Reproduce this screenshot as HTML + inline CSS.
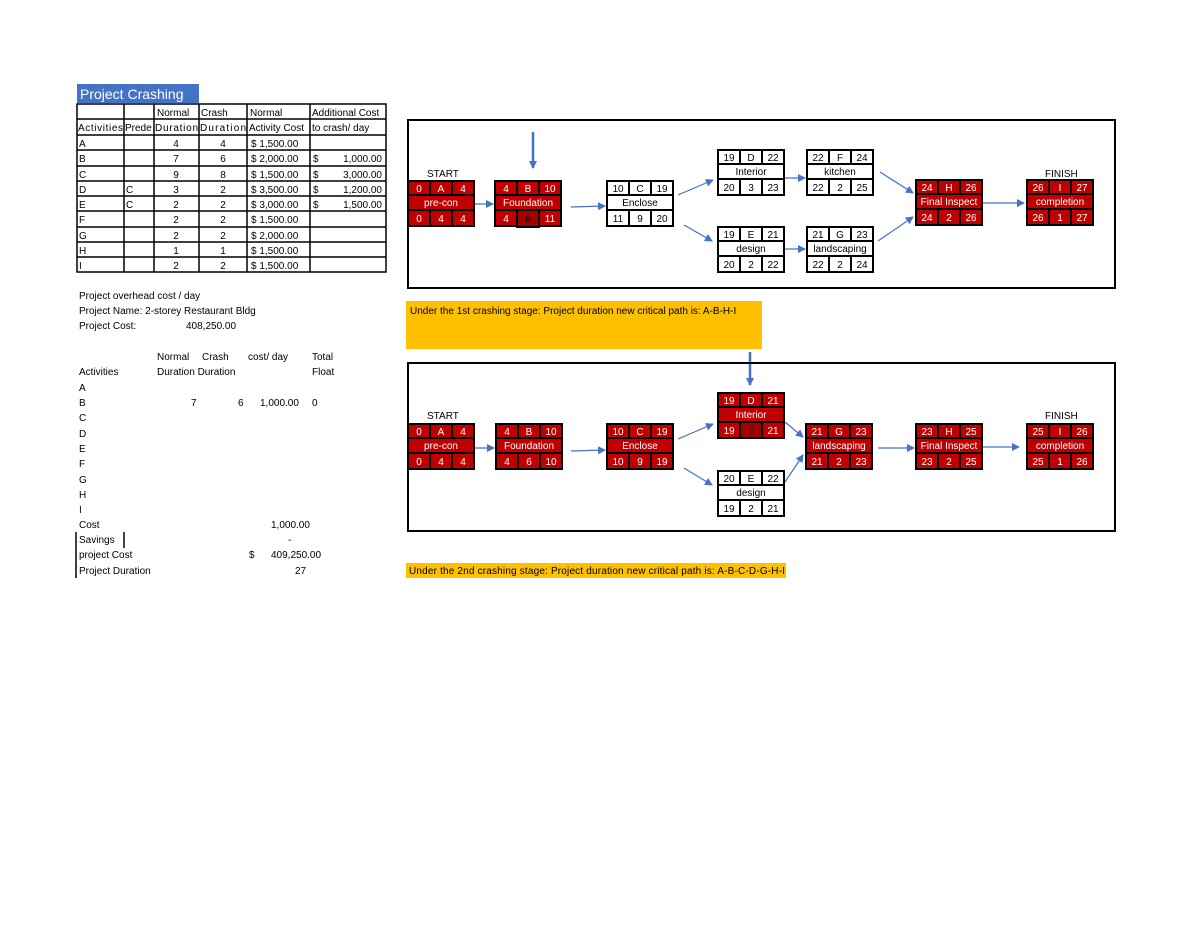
<!DOCTYPE html>
<html><head><meta charset="utf-8"><style>
body{margin:0;background:#fff}
svg{display:block;font-family:"Liberation Sans",sans-serif}
.n text{font-size:10px;text-anchor:middle}
.t{font-size:10px}
</style></head><body>
<svg width="1200" height="927" viewBox="0 0 1200 927" xmlns="http://www.w3.org/2000/svg">
<defs>
<marker id="ar" markerWidth="8" markerHeight="8" refX="7" refY="4" orient="auto" markerUnits="userSpaceOnUse"><path d="M0,0 L8,4 L0,8 Z" fill="#4472c4"/></marker>
</defs>
<!-- Title -->
<rect x="77" y="84" width="122" height="19" fill="#4472c4"/>
<text x="80" y="99" font-size="14" fill="#fff">Project Crashing</text>
<!-- Table -->
<g stroke="#000" stroke-width="1.5" fill="none">
<rect x="77" y="104" width="309" height="168"/>
<line x1="124" y1="104" x2="124" y2="272"/><line x1="154" y1="104" x2="154" y2="272"/>
<line x1="199" y1="104" x2="199" y2="272"/><line x1="247" y1="104" x2="247" y2="272"/>
<line x1="310" y1="104" x2="310" y2="272"/>
<line x1="77" y1="119" x2="386" y2="119"/><line x1="77" y1="135" x2="386" y2="135"/>
<line x1="77" y1="150" x2="386" y2="150"/><line x1="77" y1="166" x2="386" y2="166"/>
<line x1="77" y1="181" x2="386" y2="181"/><line x1="77" y1="196" x2="386" y2="196"/>
<line x1="77" y1="211" x2="386" y2="211"/><line x1="77" y1="227" x2="386" y2="227"/>
<line x1="77" y1="242" x2="386" y2="242"/><line x1="77" y1="257" x2="386" y2="257"/>
</g>
<g class="t">
<text x="157" y="116">Normal</text><text x="201" y="116">Crash</text><text x="250" y="116">Normal</text><text x="312" y="116">Additional Cost</text>
<text x="78" y="131" textLength="45">Activities</text><text x="125" y="131">Prede</text><text x="155" y="131" textLength="43">Duration</text><text x="200" y="131" textLength="46">Duration</text><text x="249" y="131">Activity Cost</text><text x="312" y="131">to crash/ day</text>
</g>
<g class="t">
<text x="79" y="147">A</text><text x="79" y="162">B</text><text x="79" y="178">C</text><text x="79" y="193">D</text><text x="79" y="208">E</text><text x="79" y="223">F</text><text x="79" y="239">G</text><text x="79" y="254">H</text><text x="79" y="269">I</text>
<text x="126" y="193">C</text><text x="126" y="208">C</text>
</g>
<g class="t" text-anchor="middle">
<text x="176" y="147">4</text><text x="176" y="162">7</text><text x="176" y="178">9</text><text x="176" y="193">3</text><text x="176" y="208">2</text><text x="176" y="223">2</text><text x="176" y="239">2</text><text x="176" y="254">1</text><text x="176" y="269">2</text>
<text x="223" y="147">4</text><text x="223" y="162">6</text><text x="223" y="178">8</text><text x="223" y="193">2</text><text x="223" y="208">2</text><text x="223" y="223">2</text><text x="223" y="239">2</text><text x="223" y="254">1</text><text x="223" y="269">2</text>
</g>
<g class="t">
<text x="251" y="147">$ 1,500.00</text><text x="251" y="162">$ 2,000.00</text><text x="251" y="178">$ 1,500.00</text><text x="251" y="193">$ 3,500.00</text><text x="251" y="208">$ 3,000.00</text><text x="251" y="223">$ 1,500.00</text><text x="251" y="239">$ 2,000.00</text><text x="251" y="254">$ 1,500.00</text><text x="251" y="269">$ 1,500.00</text>
<text x="313" y="162">$</text><text x="313" y="178">$</text><text x="313" y="193">$</text><text x="313" y="208">$</text>
</g>
<g class="t" text-anchor="end">
<text x="382" y="162">1,000.00</text><text x="382" y="178">3,000.00</text><text x="382" y="193">1,200.00</text><text x="382" y="208">1,500.00</text>
</g>
<!-- lower left -->
<g class="t">
<text x="79" y="299">Project overhead cost / day</text>
<text x="79" y="314">Project Name: 2-storey Restaurant Bldg</text>
<text x="79" y="329">Project Cost:</text><text x="186" y="329">408,250.00</text>
<text x="157" y="360">Normal</text><text x="202" y="360">Crash</text><text x="248" y="360">cost/ day</text><text x="312" y="360">Total</text>
<text x="79" y="375">Activities</text><text x="157" y="375">Duration Duration</text><text x="312" y="375">Float</text>
<text x="79" y="391">A</text><text x="79" y="406">B</text><text x="79" y="421">C</text><text x="79" y="437">D</text><text x="79" y="452">E</text><text x="79" y="467">F</text><text x="79" y="483">G</text><text x="79" y="498">H</text><text x="79" y="513">I</text>
<text x="191" y="406">7</text><text x="238" y="406">6</text><text x="260" y="406">1,000.00</text><text x="312" y="406">0</text>
<text x="79" y="528">Cost</text><text x="271" y="528">1,000.00</text>
<text x="79" y="543">Savings</text><text x="288" y="543">-</text>
<text x="79" y="558">project Cost</text><text x="249" y="558">$</text><text x="271" y="558">409,250.00</text>
<text x="79" y="574">Project Duration</text><text x="295" y="574">27</text>
</g>
<g stroke="#000" stroke-width="1.5"><line x1="76" y1="532" x2="76" y2="578"/><line x1="124" y1="532" x2="124" y2="548"/></g>

<!-- Diagram 1 -->
<rect x="408" y="120" width="707" height="168" fill="none" stroke="#000" stroke-width="2"/>
<line x1="533" y1="132" x2="533" y2="168" stroke="#4472c4" stroke-width="2.5" marker-end="url(#ar)"/>
<text class="t" x="427" y="177">START</text>
<text class="t" x="1045" y="177">FINISH</text>
<g stroke="#4472c4" stroke-width="1.2" fill="none" marker-end="url(#ar)">
<line x1="475" y1="204" x2="493" y2="204"/>
<line x1="571" y1="207" x2="605" y2="206"/>
<line x1="678" y1="195" x2="713" y2="180"/>
<line x1="684" y1="225" x2="712" y2="241"/>
<line x1="785" y1="178" x2="805" y2="178"/>
<line x1="785" y1="249" x2="805" y2="249"/>
<line x1="880" y1="172" x2="913" y2="193"/>
<line x1="878" y1="241" x2="913" y2="217"/>
<line x1="983" y1="203" x2="1024" y2="203"/>
</g>
<!-- A -->
<g class="n" transform="translate(407,180)"><rect width="68" height="47"/><g fill="#c00000"><rect x="2" y="2" width="20" height="12"/><rect x="24" y="2" width="20" height="12"/><rect x="46" y="2" width="20" height="12"/><rect x="2" y="16" width="64" height="13"/><rect x="2" y="31" width="20" height="14"/><rect x="24" y="31" width="20" height="14"/><rect x="46" y="31" width="20" height="14"/></g><g fill="#fff"><text x="12" y="12">0</text><text x="34" y="12">A</text><text x="56" y="12">4</text><text x="34" y="26">pre-con</text><text x="12" y="42">0</text><text x="34" y="42">4</text><text x="56" y="42">4</text></g></g>
<!-- B -->
<g class="n" transform="translate(494,180)"><rect width="68" height="47"/><g fill="#c00000"><rect x="2" y="2" width="20" height="12"/><rect x="24" y="2" width="20" height="12"/><rect x="46" y="2" width="20" height="12"/><rect x="2" y="16" width="64" height="13"/><rect x="2" y="31" width="20" height="14"/><rect x="46" y="31" width="20" height="14"/></g><rect x="23" y="30" width="22" height="17" fill="#a00000" stroke="#000" stroke-width="2"/><g fill="#fff"><text x="12" y="12">4</text><text x="34" y="12">B</text><text x="56" y="12">10</text><text x="34" y="26">Foundation</text><text x="12" y="42">4</text><text x="56" y="42">11</text></g><text x="34" y="42" fill="#000">6</text></g>
<!-- C white -->
<g class="n" transform="translate(606,180)"><rect width="68" height="47"/><g fill="#fff"><rect x="2" y="2" width="20" height="12"/><rect x="24" y="2" width="20" height="12"/><rect x="46" y="2" width="20" height="12"/><rect x="2" y="16" width="64" height="13"/><rect x="2" y="31" width="20" height="14"/><rect x="24" y="31" width="20" height="14"/><rect x="46" y="31" width="20" height="14"/></g><g fill="#000"><text x="12" y="12">10</text><text x="34" y="12">C</text><text x="56" y="12">19</text><text x="34" y="26">Enclose</text><text x="12" y="42">11</text><text x="34" y="42">9</text><text x="56" y="42">20</text></g></g>
<!-- D white -->
<g class="n" transform="translate(717,149)"><rect width="68" height="47"/><g fill="#fff"><rect x="2" y="2" width="20" height="12"/><rect x="24" y="2" width="20" height="12"/><rect x="46" y="2" width="20" height="12"/><rect x="2" y="16" width="64" height="13"/><rect x="2" y="31" width="20" height="14"/><rect x="24" y="31" width="20" height="14"/><rect x="46" y="31" width="20" height="14"/></g><g fill="#000"><text x="12" y="12">19</text><text x="34" y="12">D</text><text x="56" y="12">22</text><text x="34" y="26">Interior</text><text x="12" y="42">20</text><text x="34" y="42">3</text><text x="56" y="42">23</text></g></g>
<!-- F white -->
<g class="n" transform="translate(806,149)"><rect width="68" height="47"/><g fill="#fff"><rect x="2" y="2" width="20" height="12"/><rect x="24" y="2" width="20" height="12"/><rect x="46" y="2" width="20" height="12"/><rect x="2" y="16" width="64" height="13"/><rect x="2" y="31" width="20" height="14"/><rect x="24" y="31" width="20" height="14"/><rect x="46" y="31" width="20" height="14"/></g><g fill="#000"><text x="12" y="12">22</text><text x="34" y="12">F</text><text x="56" y="12">24</text><text x="34" y="26">kitchen</text><text x="12" y="42">22</text><text x="34" y="42">2</text><text x="56" y="42">25</text></g></g>
<!-- E white -->
<g class="n" transform="translate(717,226)"><rect width="68" height="47"/><g fill="#fff"><rect x="2" y="2" width="20" height="12"/><rect x="24" y="2" width="20" height="12"/><rect x="46" y="2" width="20" height="12"/><rect x="2" y="16" width="64" height="13"/><rect x="2" y="31" width="20" height="14"/><rect x="24" y="31" width="20" height="14"/><rect x="46" y="31" width="20" height="14"/></g><g fill="#000"><text x="12" y="12">19</text><text x="34" y="12">E</text><text x="56" y="12">21</text><text x="34" y="26">design</text><text x="12" y="42">20</text><text x="34" y="42">2</text><text x="56" y="42">22</text></g></g>
<!-- G white -->
<g class="n" transform="translate(806,226)"><rect width="68" height="47"/><g fill="#fff"><rect x="2" y="2" width="20" height="12"/><rect x="24" y="2" width="20" height="12"/><rect x="46" y="2" width="20" height="12"/><rect x="2" y="16" width="64" height="13"/><rect x="2" y="31" width="20" height="14"/><rect x="24" y="31" width="20" height="14"/><rect x="46" y="31" width="20" height="14"/></g><g fill="#000"><text x="12" y="12">21</text><text x="34" y="12">G</text><text x="56" y="12">23</text><text x="34" y="26">landscaping</text><text x="12" y="42">22</text><text x="34" y="42">2</text><text x="56" y="42">24</text></g></g>
<!-- H -->
<g class="n" transform="translate(915,179)"><rect width="68" height="47"/><g fill="#c00000"><rect x="2" y="2" width="20" height="12"/><rect x="24" y="2" width="20" height="12"/><rect x="46" y="2" width="20" height="12"/><rect x="2" y="16" width="64" height="13"/><rect x="2" y="31" width="20" height="14"/><rect x="24" y="31" width="20" height="14"/><rect x="46" y="31" width="20" height="14"/></g><g fill="#fff"><text x="12" y="12">24</text><text x="34" y="12">H</text><text x="56" y="12">26</text><text x="34" y="26">Final Inspect</text><text x="12" y="42">24</text><text x="34" y="42">2</text><text x="56" y="42">26</text></g></g>
<!-- I -->
<g class="n" transform="translate(1026,179)"><rect width="68" height="47"/><g fill="#c00000"><rect x="2" y="2" width="20" height="12"/><rect x="24" y="2" width="20" height="12"/><rect x="46" y="2" width="20" height="12"/><rect x="2" y="16" width="64" height="13"/><rect x="2" y="31" width="20" height="14"/><rect x="24" y="31" width="20" height="14"/><rect x="46" y="31" width="20" height="14"/></g><g fill="#fff"><text x="12" y="12">26</text><text x="34" y="12">I</text><text x="56" y="12">27</text><text x="34" y="26">completion</text><text x="12" y="42">26</text><text x="34" y="42">1</text><text x="56" y="42">27</text></g></g>

<!-- Yellow 1 -->
<rect x="406" y="301" width="356" height="48" fill="#ffc000"/>
<text class="t" x="410" y="314">Under the 1st crashing stage: Project duration  new critical path is: A-B-H-I</text>
<line x1="750" y1="352" x2="750" y2="385" stroke="#4472c4" stroke-width="2.5" marker-end="url(#ar)"/>

<!-- Diagram 2 -->
<rect x="408" y="363" width="707" height="168" fill="none" stroke="#000" stroke-width="2"/>
<text class="t" x="427" y="419">START</text>
<text class="t" x="1045" y="419">FINISH</text>
<g stroke="#4472c4" stroke-width="1.2" fill="none" marker-end="url(#ar)">
<line x1="475" y1="448" x2="494" y2="448"/>
<line x1="571" y1="451" x2="605" y2="450"/>
<line x1="678" y1="439" x2="713" y2="424"/>
<line x1="684" y1="468" x2="712" y2="485"/>
<line x1="785" y1="422" x2="803" y2="437"/>
<line x1="785" y1="482" x2="803" y2="455"/>
<line x1="878" y1="448" x2="914" y2="448"/>
<line x1="983" y1="447" x2="1019" y2="447"/>
</g>
<!-- A2 -->
<g class="n" transform="translate(407,423)"><rect width="68" height="47"/><g fill="#c00000"><rect x="2" y="2" width="20" height="12"/><rect x="24" y="2" width="20" height="12"/><rect x="46" y="2" width="20" height="12"/><rect x="2" y="16" width="64" height="13"/><rect x="2" y="31" width="20" height="14"/><rect x="24" y="31" width="20" height="14"/><rect x="46" y="31" width="20" height="14"/></g><g fill="#fff"><text x="12" y="12">0</text><text x="34" y="12">A</text><text x="56" y="12">4</text><text x="34" y="26">pre-con</text><text x="12" y="42">0</text><text x="34" y="42">4</text><text x="56" y="42">4</text></g></g>
<!-- B2 -->
<g class="n" transform="translate(495,423)"><rect width="68" height="47"/><g fill="#c00000"><rect x="2" y="2" width="20" height="12"/><rect x="24" y="2" width="20" height="12"/><rect x="46" y="2" width="20" height="12"/><rect x="2" y="16" width="64" height="13"/><rect x="2" y="31" width="20" height="14"/><rect x="24" y="31" width="20" height="14"/><rect x="46" y="31" width="20" height="14"/></g><g fill="#fff"><text x="12" y="12">4</text><text x="34" y="12">B</text><text x="56" y="12">10</text><text x="34" y="26">Foundation</text><text x="12" y="42">4</text><text x="34" y="42">6</text><text x="56" y="42">10</text></g></g>
<!-- C2 -->
<g class="n" transform="translate(606,423)"><rect width="68" height="47"/><g fill="#c00000"><rect x="2" y="2" width="20" height="12"/><rect x="24" y="2" width="20" height="12"/><rect x="46" y="2" width="20" height="12"/><rect x="2" y="16" width="64" height="13"/><rect x="2" y="31" width="20" height="14"/><rect x="24" y="31" width="20" height="14"/><rect x="46" y="31" width="20" height="14"/></g><g fill="#fff"><text x="12" y="12">10</text><text x="34" y="12">C</text><text x="56" y="12">19</text><text x="34" y="26">Enclose</text><text x="12" y="42">10</text><text x="34" y="42">9</text><text x="56" y="42">19</text></g></g>
<!-- D2 -->
<g class="n" transform="translate(717,392)"><rect width="68" height="47"/><g fill="#c00000"><rect x="2" y="2" width="20" height="12"/><rect x="24" y="2" width="20" height="12"/><rect x="46" y="2" width="20" height="12"/><rect x="2" y="16" width="64" height="13"/><rect x="2" y="31" width="20" height="14"/><rect x="46" y="31" width="20" height="14"/></g><rect x="24" y="31" width="20" height="14" fill="#a00000"/><g fill="#fff"><text x="12" y="12">19</text><text x="34" y="12">D</text><text x="56" y="12">21</text><text x="34" y="26">Interior</text><text x="12" y="42">19</text><text x="56" y="42">21</text></g><text x="34" y="42" fill="#400">2</text></g>
<!-- E2 white -->
<g class="n" transform="translate(717,470)"><rect width="68" height="47"/><g fill="#fff"><rect x="2" y="2" width="20" height="12"/><rect x="24" y="2" width="20" height="12"/><rect x="46" y="2" width="20" height="12"/><rect x="2" y="16" width="64" height="13"/><rect x="2" y="31" width="20" height="14"/><rect x="24" y="31" width="20" height="14"/><rect x="46" y="31" width="20" height="14"/></g><g fill="#000"><text x="12" y="12">20</text><text x="34" y="12">E</text><text x="56" y="12">22</text><text x="34" y="26">design</text><text x="12" y="42">19</text><text x="34" y="42">2</text><text x="56" y="42">21</text></g></g>
<!-- G2 -->
<g class="n" transform="translate(805,423)"><rect width="68" height="47"/><g fill="#c00000"><rect x="2" y="2" width="20" height="12"/><rect x="24" y="2" width="20" height="12"/><rect x="46" y="2" width="20" height="12"/><rect x="2" y="16" width="64" height="13"/><rect x="2" y="31" width="20" height="14"/><rect x="24" y="31" width="20" height="14"/><rect x="46" y="31" width="20" height="14"/></g><g fill="#fff"><text x="12" y="12">21</text><text x="34" y="12">G</text><text x="56" y="12">23</text><text x="34" y="26">landscaping</text><text x="12" y="42">21</text><text x="34" y="42">2</text><text x="56" y="42">23</text></g></g>
<!-- H2 -->
<g class="n" transform="translate(915,423)"><rect width="68" height="47"/><g fill="#c00000"><rect x="2" y="2" width="20" height="12"/><rect x="24" y="2" width="20" height="12"/><rect x="46" y="2" width="20" height="12"/><rect x="2" y="16" width="64" height="13"/><rect x="2" y="31" width="20" height="14"/><rect x="24" y="31" width="20" height="14"/><rect x="46" y="31" width="20" height="14"/></g><g fill="#fff"><text x="12" y="12">23</text><text x="34" y="12">H</text><text x="56" y="12">25</text><text x="34" y="26">Final Inspect</text><text x="12" y="42">23</text><text x="34" y="42">2</text><text x="56" y="42">25</text></g></g>
<!-- I2 -->
<g class="n" transform="translate(1026,423)"><rect width="68" height="47"/><g fill="#c00000"><rect x="2" y="2" width="20" height="12"/><rect x="24" y="2" width="20" height="12"/><rect x="46" y="2" width="20" height="12"/><rect x="2" y="16" width="64" height="13"/><rect x="2" y="31" width="20" height="14"/><rect x="24" y="31" width="20" height="14"/><rect x="46" y="31" width="20" height="14"/></g><g fill="#fff"><text x="12" y="12">25</text><text x="34" y="12">I</text><text x="56" y="12">26</text><text x="34" y="26">completion</text><text x="12" y="42">25</text><text x="34" y="42">1</text><text x="56" y="42">26</text></g></g>

<!-- Yellow 2 -->
<rect x="406" y="563" width="380" height="15" fill="#ffc000"/>
<text class="t" x="409" y="574" textLength="376">Under the 2nd crashing stage: Project duration new critical path is: A-B-C-D-G-H-I</text>
</svg>
</body></html>
